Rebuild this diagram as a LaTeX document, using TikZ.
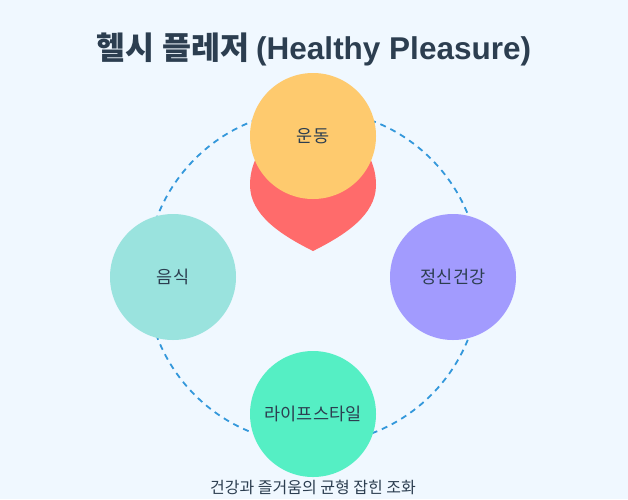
\documentclass[tikz,border=0pt]{standalone}
\usepackage{fontspec}
\setmainfont{Liberation Sans}
\newfontfamily\kr{Noto Sans CJK KR}
\definecolor{bg}{HTML}{F0F8FF}
\definecolor{ink}{HTML}{2C3E50}
\definecolor{ring}{HTML}{3498DB}
\definecolor{heartc}{HTML}{FF6B6B}
\definecolor{cy}{HTML}{FECA6E}
\definecolor{cl}{HTML}{9AE3DE}
\definecolor{cr}{HTML}{A29BFE}
\definecolor{cb}{HTML}{55EFC4}
\tikzset{bub/.style={circle,minimum size=126pt,inner sep=0pt,text=ink,font=\kr\fontsize{17.5}{20}\selectfont}}
\begin{document}
\begin{tikzpicture}[x=1pt,y=-1pt]
\fill[bg] (0,0) rectangle (628,499);
\useasboundingbox (0,0) rectangle (628,499);
\node[text=ink,font=\kr\bfseries\fontsize{31.5}{36}\selectfont] (title) at (314,49) {헬시 플레저 {\fontspec{Liberation Sans}\bfseries (Healthy Pleasure)}};
\node[circle,minimum size=334pt,draw=ring,line width=1.8pt,dash pattern=on 6pt off 5pt] (ring) at (313,277) {};
\fill[heartc] (250,185) arc[start angle=180,end angle=360,radius=63] .. controls (376,215) and (345,235) .. (313,251) .. controls (281,235) and (250,215) .. (250,185) -- cycle;
\node[bub,fill=cy] (a) at (313,136) {운동};
\node[bub,fill=cl] (b) at (173,277) {음식};
\node[bub,fill=cr] (c) at (453,277) {정신건강};
\node[bub,fill=cb] (d) at (313,414) {라이프스타일};
\node[text=ink,font=\kr\fontsize{16}{18}\selectfont] (sub) at (313,487) {건강과 즐거움의 균형 잡힌 조화};
\end{tikzpicture}
\end{document}
